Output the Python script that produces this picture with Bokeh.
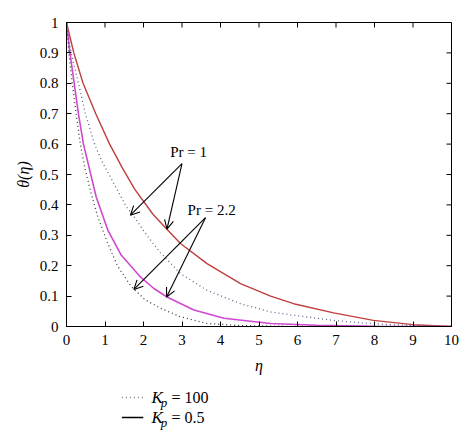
import math
from bokeh.plotting import figure
from bokeh.layouts import column
from bokeh.models import (FixedTicker, CustomJSTickFormatter, Label, Arrow, OpenHead, Range1d)
from bokeh.embed import file_html
from bokeh.resources import INLINE

# ---- data ----
# Pr = 1, Kp = 0.5 (solid red)
eta_r = [0, 0.19, 0.43, 0.76, 1.12, 1.45, 1.77, 2.24, 2.57, 2.96, 3.65, 4.52, 5.3, 5.9, 6.94, 7.97, 9.0, 10]
theta_r = [1, 0.90, 0.80, 0.70, 0.60, 0.522, 0.452, 0.37, 0.325, 0.273, 0.207, 0.141, 0.10, 0.075, 0.045, 0.02, 0.006, 0.0]
# Pr = 1, Kp = 100 (dotted)
eta_d1 = [0, 0.12, 0.31, 0.49, 0.73, 0.90, 1.25, 1.55, 1.81, 2.11, 2.44, 2.96, 3.65, 4.52, 5.3, 5.9, 6.94, 7.97, 9.0, 10]
theta_d1 = [1, 0.90, 0.80, 0.70, 0.60, 0.548, 0.466, 0.395, 0.351, 0.296, 0.243, 0.174, 0.119, 0.075, 0.048, 0.037, 0.02, 0.009, 0.003, 0.0]
# Pr = 2.2, Kp = 0.5 (solid magenta)
eta_m = [0, 0.09, 0.20, 0.31, 0.44, 0.77, 1.07, 1.42, 1.92, 2.27, 2.61, 3.31, 4.09, 5.3, 6.5, 8, 10]
theta_m = [1, 0.90, 0.80, 0.70, 0.60, 0.427, 0.318, 0.235, 0.163, 0.125, 0.097, 0.054, 0.027, 0.01, 0.004, 0.001, 0.0]
# Pr = 2.2, Kp = 100 (dotted)
eta_d2 = [0, 0.06, 0.15, 0.25, 0.36, 0.49, 0.64, 0.81, 1.07, 1.33, 1.68, 2.03, 2.44, 2.96, 3.65, 4.5, 6, 10]
theta_d2 = [1, 0.90, 0.80, 0.70, 0.60, 0.515, 0.438, 0.362, 0.274, 0.198, 0.132, 0.089, 0.06, 0.032, 0.01, 0.003, 0.0, 0.0]

x_ticks = [0, 1, 2, 3, 4, 5, 6, 7, 8, 9, 10]
y_ticks = [0, 0.1, 0.2, 0.3, 0.4, 0.5, 0.6, 0.7, 0.8, 0.9, 1]

# annotation anchors (data coordinates)
pr1_text = "Pr = 1"
pr1_label = (3.17, 0.575)
pr1_base = (3.0, 0.536)
pr1_heads = [(1.66, 0.366), (2.61, 0.32)]
pr22_text = "Pr = 2.2"
pr22_label = (3.77, 0.383)
pr22_base = (3.61, 0.358)
pr22_heads = [(1.75, 0.122), (2.60, 0.097)]

legend_values = ["100", "0.5"]
legend_styles = ["dotted", "solid"]

SERIF = "Liberation Serif"
RED = "#bf3f3f"
MAG = "#d048d0"
DOT1 = "#5a6688"
DOT2 = "#3a3a3a"

p = figure(width=466, height=380, x_range=(0, 10), y_range=(0, 1),
           output_backend="svg", toolbar_location=None,
           min_border_left=66, min_border_right=15, min_border_top=22,
           min_border_bottom=54)
p.xgrid.visible = False
p.ygrid.visible = False
p.outline_line_color = "black"
p.outline_line_width = 1
p.background_fill_color = "white"
p.border_fill_color = "white"

fmt = CustomJSTickFormatter(code="return tick.toString();")
for ax, ticks in ((p.xaxis[0], x_ticks), (p.yaxis[0], y_ticks)):
    ax.ticker = FixedTicker(ticks=ticks)
    ax.formatter = fmt
    ax.minor_tick_line_color = None
    ax.major_tick_in = 5
    ax.major_tick_out = 0
    ax.axis_line_color = "black"
    ax.major_tick_line_color = "black"
    ax.major_label_text_font = SERIF
    ax.major_label_text_font_size = "15px"
    ax.major_label_text_color = "black"
    ax.axis_label_text_font = SERIF
    ax.axis_label_text_font_size = "16px"
    ax.axis_label_text_font_style = "italic"
    ax.axis_label_text_color = "black"

p.xaxis[0].axis_label = "η"
p.xaxis[0].major_label_standoff = 8
p.xaxis[0].axis_label_standoff = 9
p.yaxis[0].axis_label = "θ(η)"
p.yaxis[0].major_label_standoff = 8
p.yaxis[0].axis_label_standoff = 5

# mirrored inward ticks on the top and right edges
p.ray(x=x_ticks, y=[1] * len(x_ticks), length=5, length_units="screen",
      angle=-math.pi / 2, line_color="black", line_width=1)
p.ray(x=[10] * len(y_ticks), y=y_ticks, length=5, length_units="screen",
      angle=math.pi, line_color="black", line_width=1)

# curves
p.line(eta_r, theta_r, line_color=RED, line_width=1.4)
p.line(eta_d1, theta_d1, line_color=DOT1, line_width=1.3, line_dash="1 3")
p.line(eta_m, theta_m, line_color=MAG, line_width=1.6)
p.line(eta_d2, theta_d2, line_color=DOT2, line_width=1.3, line_dash="1 3")

# annotations
for text, (lx, ly), (bx, by), heads in ((pr1_text, pr1_label, pr1_base, pr1_heads),
                                         (pr22_text, pr22_label, pr22_base, pr22_heads)):
    p.add_layout(Label(x=lx, y=ly, text=text, text_font=SERIF, text_font_size="15px",
                       text_align="center", text_baseline="middle", text_color="black"))
    for hx, hy in heads:
        p.add_layout(Arrow(x_start=bx, y_start=by, x_end=hx, y_end=hy,
                           line_color="black", line_width=1.1,
                           end=OpenHead(size=9, line_color="black", line_width=1.1)))

# legend panel below the plot (pixel-like coordinates)
leg = figure(width=466, height=60, x_range=Range1d(0, 466), y_range=Range1d(60, 0),
             output_backend="svg", toolbar_location=None,
             min_border_left=0, min_border_right=0, min_border_top=0, min_border_bottom=0)
leg.axis.visible = False
leg.xgrid.visible = False
leg.ygrid.visible = False
leg.outline_line_color = None
leg.background_fill_color = "white"
leg.border_fill_color = "white"

row_y = [17, 37]
for val, style, ry in zip(legend_values, legend_styles, row_y):
    if style == "dotted":
        leg.line([67, 93], [ry, ry], line_color="#777777", line_width=1.3, line_dash="1 3")
    else:
        leg.line([67, 93], [ry, ry], line_color="black", line_width=1.4)
    leg.add_layout(Label(x=103, y=ry, text="K", text_font=SERIF, text_font_size="17px",
                         text_font_style="italic", text_baseline="middle", text_color="black"))
    leg.add_layout(Label(x=114, y=ry + 5, text="p", text_font=SERIF, text_font_size="13px",
                         text_font_style="italic", text_baseline="middle", text_color="black"))
    leg.add_layout(Label(x=127, y=ry, text="= " + val, text_font=SERIF, text_font_size="16px",
                         text_baseline="middle", text_color="black"))

open("out.html", "w").write(file_html(column(p, leg), INLINE))
